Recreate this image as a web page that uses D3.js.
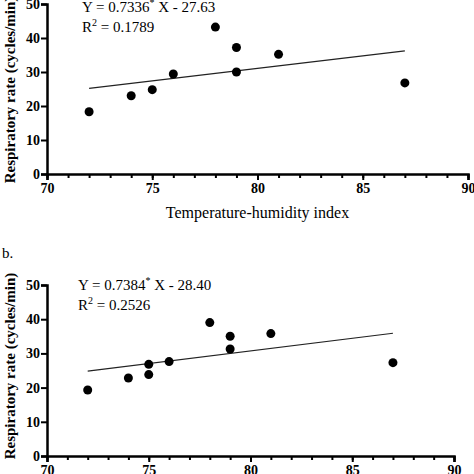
<!DOCTYPE html><html><head><script src="https://cdn.jsdelivr.net/npm/d3@7"></script>
<style>body{margin:0;background:#fff}text{font-family:"Liberation Serif",serif}</style></head><body><svg width="474" height="474"></svg>
<script>
const xTicks=[70,75,80,85,90], yTicks=[0,10,20,30,40,50];
const aX=[72,74,75,76,78,79,79,81,87], aY=[18.3,23,24.8,29.4,43.2,37.2,30,35.2,26.8];
const bX=[72,74,75,75,76,78,79,79,81,87], bY=[19.3,22.8,26.8,23.8,27.6,39,35,31.3,35.8,27.3];
const aFit=[0.7336,-27.63], bFit=[0.7384,-28.40];
const aLine=[[72,25.2],[87,36.2]], bLine=[[72,24.8],[87,35.9]];
const svg=d3.select("svg");
function panel(px,py,lineP,eq,r2,box,eqPos,labY,xTitle){
 const x=d3.scaleLinear([70,90],[box.l,box.r]), y=d3.scaleLinear([0,50],[box.b,box.t]);
 const g=svg.append("g");
 const xa=g.append("g").attr("transform",`translate(0,${box.b})`).call(d3.axisBottom(x).tickValues(xTicks).tickSize(6).tickFormat(d3.format("d")));
 g.append("g").attr("transform",`translate(0,${box.b})`).call(d3.axisBottom(x).tickValues(d3.range(70,91)).tickSize(4).tickFormat("")).select(".domain").remove();
 const ya=g.append("g").attr("transform",`translate(${box.l},0)`).call(d3.axisLeft(y).tickValues(yTicks).tickSize(6));
 g.selectAll(".domain").attr("stroke-width",2.5);
 g.selectAll(".tick line").attr("stroke-width",2);
 g.selectAll(".tick text").attr("font-size",14).attr("font-weight","bold").attr("font-family","Liberation Serif");
 ya.selectAll(".tick text").attr("dx",2);
 g.append("line").attr("x1",x(lineP[0][0])).attr("y1",y(lineP[0][1])).attr("x2",x(lineP[1][0])).attr("y2",y(lineP[1][1])).attr("stroke","#222").attr("stroke-width",1.2);
 g.selectAll("circle").data(px).join("circle").attr("cx",d=>x(d)).attr("cy",(d,i)=>y(py[i])).attr("r",4.5).attr("fill","#000");
 const t=g.append("text").attr("x",eqPos[0]).attr("y",eqPos[1]).attr("font-size",15);
 t.append("tspan").text(`Y = ${eq[0]}`);t.append("tspan").attr("dy",-6).attr("font-size",10).text("*");
 t.append("tspan").attr("dy",6).text(` X - ${(-eq[1]).toFixed(2)}`);
 const r=g.append("text").attr("x",eqPos[0]).attr("y",eqPos[1]+20).attr("font-size",15);
 r.append("tspan").text("R");r.append("tspan").attr("dy",-6).attr("font-size",10).text("2");
 r.append("tspan").attr("dy",6).text(` = ${r2}`);
 g.append("text").attr("transform",`translate(15,${labY}) rotate(-90)`).attr("text-anchor","middle").attr("font-size",15).attr("font-weight","bold").text("Respiratory rate (cycles/min)");
 if(xTitle) g.append("text").attr("x",(box.l+box.r)/2).attr("y",box.b+44).attr("text-anchor","middle").attr("font-size",16).text("Temperature-humidity index");
}
panel(aX,aY,aLine,aFit,"0.1789",{l:47,r:468,t:4,b:174},[82,12],90,true);
svg.append("text").attr("x",2).attr("y",258).attr("font-size",15).text("b.");
panel(bX,bY,bLine,bFit,"0.2526",{l:47,r:454,t:285,b:456},[78,290],366,false);
</script></body></html>
